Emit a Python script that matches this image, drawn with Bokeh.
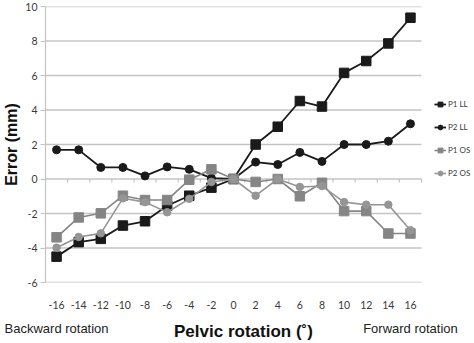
from bokeh.plotting import figure
from bokeh.models import Range1d, Legend, LegendItem, FixedTicker, LinearAxis
from bokeh.embed import file_html
from bokeh.resources import INLINE

rotation = [-16, -14, -12, -10, -8, -6, -4, -2, 0, 2, 4, 6, 8, 10, 12, 14, 16]
p1_ll = [-4.5, -3.66, -3.47, -2.7, -2.45, -1.55, -0.97, -0.5, 0.0, 2.0, 3.03, 4.52, 4.2, 6.15, 6.84, 7.86, 9.35]
p2_ll = [1.69, 1.69, 0.67, 0.67, 0.18, 0.7, 0.56, 0.05, 0.0, 0.98, 0.84, 1.54, 1.02, 2.0, 2.0, 2.19, 3.2]
p1_os = [-3.38, -2.23, -1.99, -0.97, -1.22, -1.22, -0.04, 0.56, 0.0, -0.17, 0.0, -1.0, -0.22, -1.86, -1.86, -3.16, -3.16]
p2_os = [-3.98, -3.36, -3.15, -1.12, -1.34, -1.93, -1.15, -0.17, 0.0, -0.97, 0.0, -0.46, -0.41, -1.34, -1.49, -1.49, -2.97]
y_ticks = [-6, -4, -2, 0, 2, 4, 6, 8, 10]
boundaries = [-17, -15, -13, -11, -9, -7, -5, -3, -1, 1, 3, 5, 7, 9, 11, 13, 15, 17]
series_names = ["P1 LL", "P2 LL", "P1 OS", "P2 OS"]
x_title = "Pelvic rotation (˚)"
y_title = "Error (mm)"
direction_labels = {-16: "Backward rotation", 16: "Forward rotation"}

GRID = "#c4c4c4"
TXT = "#3a3a3a"

# plot area spans -17..17; the frame continues to the right to hold the legend
p = figure(width=474, height=343, output_backend="svg", toolbar_location=None,
           x_range=Range1d(-17, 21.79), y_range=Range1d(-6, 10),
           min_border_left=45, min_border_right=0, min_border_top=6, min_border_bottom=50)
p.outline_line_color = None
p.background_fill_color = "white"
p.border_fill_color = "white"
p.grid.grid_line_color = None

# horizontal gridlines limited to the category span
p.segment(x0=[-17] * len(y_ticks), x1=[17] * len(y_ticks), y0=y_ticks, y1=y_ticks,
          line_color=GRID, line_width=1.6)

# y axis
p.yaxis.ticker = FixedTicker(ticks=y_ticks)
p.yaxis.major_label_overrides = {t: str(t) for t in y_ticks}
p.yaxis.axis_line_color = GRID
p.yaxis.axis_line_width = 1.2
p.yaxis.major_tick_line_color = GRID
p.yaxis.major_tick_out = 5
p.yaxis.major_tick_in = 0
p.yaxis.minor_tick_line_color = None
p.yaxis.major_label_text_font = "Lato"
p.yaxis.major_label_text_font_size = "10.5px"
p.yaxis.major_label_text_color = TXT
p.yaxis.major_label_standoff = 3
p.yaxis.axis_label = y_title
p.yaxis.axis_label_text_font = "Liberation Sans"
p.yaxis.axis_label_text_font_style = "bold"
p.yaxis.axis_label_text_font_size = "16px"
p.yaxis.axis_label_text_color = "#111111"
p.yaxis.axis_label_standoff = 2

# x axis (labels only, at the bottom)
p.xaxis.ticker = FixedTicker(ticks=rotation)
p.xaxis.major_label_overrides = {t: str(t) for t in rotation}
p.xaxis.axis_line_color = None
p.xaxis.major_tick_line_color = None
p.xaxis.minor_tick_line_color = None
p.xaxis.major_label_text_font = "Lato"
p.xaxis.major_label_text_font_size = "10.5px"
p.xaxis.major_label_text_color = TXT
p.xaxis.major_label_standoff = 12

# second bottom axis: direction notes as labels, axis title on the same row
ax2 = LinearAxis(ticker=FixedTicker(ticks=list(direction_labels.keys())),
                 major_label_overrides=direction_labels,
                 axis_line_color=None, major_tick_line_color=None, minor_tick_line_color=None,
                 major_label_text_font="Liberation Sans", major_label_text_font_size="13px",
                 major_label_text_color="#222222", major_label_standoff=3,
                 axis_label=x_title + "\u00a0" * 7, axis_label_standoff=-17,
                 axis_label_text_font="Liberation Sans", axis_label_text_font_style="bold",
                 axis_label_text_font_size="17px", axis_label_text_color="#111111")
p.add_layout(ax2, "below")

# zero axis line with category boundary ticks
p.segment(x0=boundaries, x1=boundaries, y0=[0] * len(boundaries), y1=[-0.2] * len(boundaries),
          line_color=GRID, line_width=1.2)

styles = [
    ("square", "#1a1a1a", 9.5, 1.8),
    ("circle", "#1a1a1a", 8, 1.8),
    ("square", "#858585", 9.5, 1.6),
    ("circle", "#959595", 7.5, 1.6),
]
values = [p1_ll, p2_ll, p1_os, p2_os]
legend_items = []
for name, ys, (marker, color, size, lw) in zip(series_names, values, styles):
    ln = p.line(rotation, ys, line_color=color, line_width=lw)
    sc = p.scatter(rotation, ys, marker=marker, size=size, fill_color=color, line_color=color)
    legend_items.append(LegendItem(label=name, renderers=[ln, sc]))

legend = Legend(items=legend_items, location=(389, 102), orientation="vertical",
                glyph_width=12, glyph_height=14, label_height=14, spacing=9,
                padding=0, margin=0, label_standoff=2,
                label_text_font="Lato", label_text_font_size="8px", label_text_color=TXT,
                background_fill_alpha=0, border_line_color=None)
p.add_layout(legend, "center")

open("out.html", "w").write(file_html(p, INLINE))
